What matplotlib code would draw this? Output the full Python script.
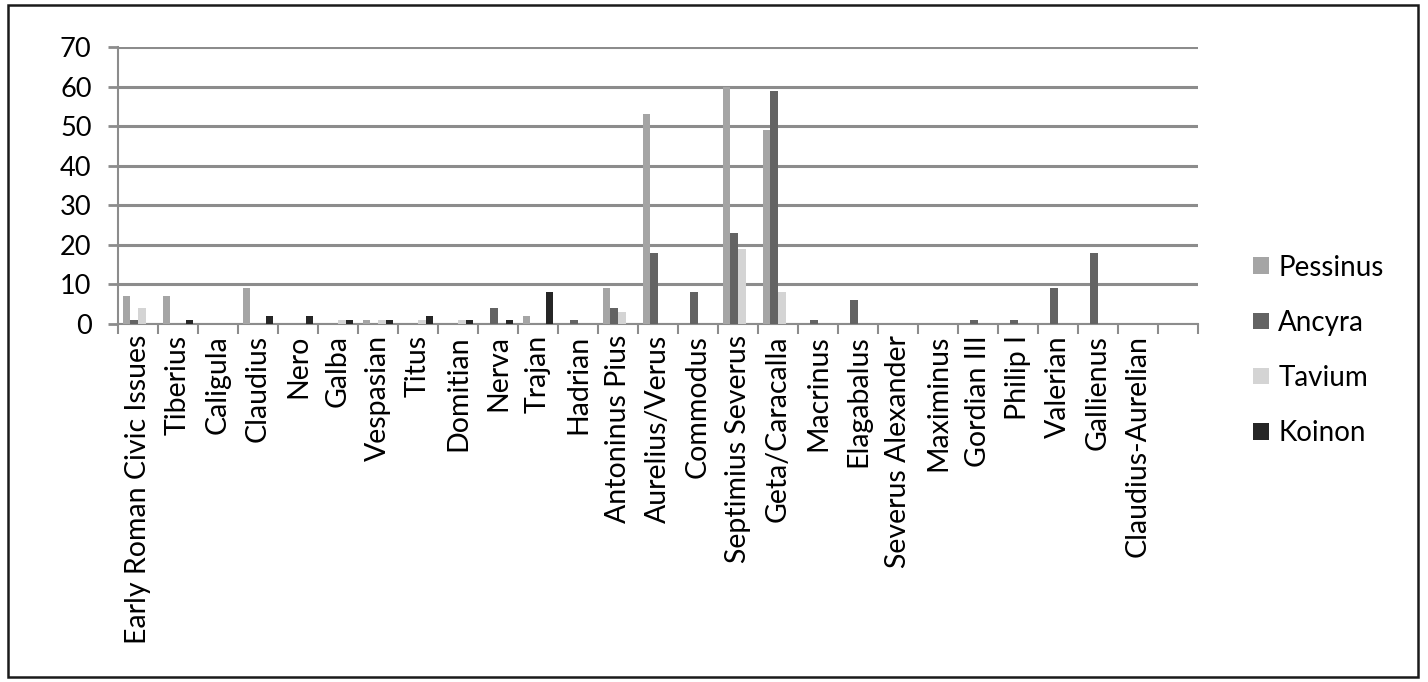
import numpy as np
import matplotlib.pyplot as plt
from matplotlib.patches import Rectangle

plt.rcParams['font.family'] = ['Lato', 'DejaVu Sans']

# rulers / periods (last slot is empty in the original chart)
periods = ['Early Roman Civic Issues', 'Tiberius', 'Caligula', 'Claudius', 'Nero',
           'Galba', 'Vespasian', 'Titus', 'Domitian', 'Nerva', 'Trajan', 'Hadrian',
           'Antoninus Pius', 'Aurelius/Verus', 'Commodus', 'Septimius Severus',
           'Geta/Caracalla', 'Macrinus', 'Elagabalus', 'Severus Alexander',
           'Maximinus', 'Gordian III', 'Philip I', 'Valerian', 'Gallienus',
           'Claudius-Aurelian', '']

pessinus = [7, 7, 0, 9, 0, 0, 1, 0, 0, 0, 2, 0, 9, 53, 0, 60, 49, 0, 0, 0, 0, 0, 0, 0, 0, 0, 0]
ancyra   = [1, 0, 0, 0, 0, 0, 0, 0, 0, 4, 0, 1, 4, 18, 8, 23, 59, 1, 6, 0, 0, 1, 1, 9, 18, 0, 0]
tavium   = [4, 0, 0, 0, 0, 1, 1, 1, 1, 0, 0, 0, 3, 0, 0, 19, 8, 0, 0, 0, 0, 0, 0, 0, 0, 0, 0]
koinon   = [0, 1, 0, 2, 2, 1, 1, 2, 1, 1, 8, 0, 0, 0, 0, 0, 0, 0, 0, 0, 0, 0, 0, 0, 0, 0, 0]

series = [('Pessinus', pessinus, '#a5a5a5'),
          ('Ancyra', ancyra, '#636363'),
          ('Tavium', tavium, '#d4d4d4'),
          ('Koinon', koinon, '#262626')]

fig = plt.figure(figsize=(14.28, 6.82), dpi=100)
ax = fig.add_axes([118/1428, 1 - 324/682, (1198 - 118)/1428, (324 - 47)/682])

x = np.arange(len(periods))
w = 0.19
for i, (name, vals, col) in enumerate(series):
    ax.bar(x + (i - 1.5) * w, vals, width=w, color=col, label=name, zorder=3)

grid_col = '#8c8c8c'
ax.set_xlim(-0.5, len(periods) - 0.5)
ax.set_ylim(0, 70)
ax.set_yticks(range(0, 71, 10))
ax.yaxis.grid(True, color=grid_col, linewidth=2.2)
ax.set_axisbelow(True)

ax.set_xticks(x)
ax.set_xticklabels(periods, rotation=90, fontsize=20.5)
ax.set_xticks(np.arange(-0.5, len(periods), 1), minor=True)
ax.tick_params(axis='x', which='major', length=0, pad=8)
ax.tick_params(axis='x', which='minor', length=7, width=1.5, color=grid_col, direction='out')
ax.tick_params(axis='y', length=7, width=2, color=grid_col, labelsize=19.5, pad=12)

for s in ['top', 'right']:
    ax.spines[s].set_visible(False)
ax.spines['left'].set_color(grid_col)
ax.spines['left'].set_linewidth(1.5)
ax.spines['bottom'].set_color(grid_col)
ax.spines['bottom'].set_linewidth(1.5)

ax.legend(loc='center left', bbox_to_anchor=(1.028, -0.095), frameon=False,
          fontsize=20, handlelength=0.55, handleheight=0.55, handletextpad=0.35,
          labelspacing=1.05)

# outer frame
fig.patches.append(Rectangle((8/1428, 5/682), 1410/1428, 672/682, transform=fig.transFigure,
                             fill=False, edgecolor='#1a1a1a', linewidth=1.8))

fig.savefig('out.png', dpi=100)
